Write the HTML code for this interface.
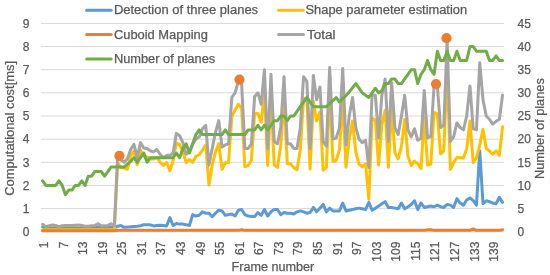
<!DOCTYPE html><html><head><meta charset="utf-8"><style>html,body{margin:0;padding:0;background:#fff;}svg{display:block;}text{font-family:"Liberation Sans", Arial, sans-serif;fill:#595959;stroke:#595959;stroke-width:0.25px;}</style></head><body>
<svg width="550" height="275" viewBox="0 0 550 275">
<line x1="41.0" y1="23.40" x2="504.2" y2="23.40" stroke="#d9d9d9" stroke-width="1"/>
<line x1="41.0" y1="46.55" x2="504.2" y2="46.55" stroke="#d9d9d9" stroke-width="1"/>
<line x1="41.0" y1="69.70" x2="504.2" y2="69.70" stroke="#d9d9d9" stroke-width="1"/>
<line x1="41.0" y1="92.85" x2="504.2" y2="92.85" stroke="#d9d9d9" stroke-width="1"/>
<line x1="41.0" y1="116.00" x2="504.2" y2="116.00" stroke="#d9d9d9" stroke-width="1"/>
<line x1="41.0" y1="139.15" x2="504.2" y2="139.15" stroke="#d9d9d9" stroke-width="1"/>
<line x1="41.0" y1="162.30" x2="504.2" y2="162.30" stroke="#d9d9d9" stroke-width="1"/>
<line x1="41.0" y1="185.45" x2="504.2" y2="185.45" stroke="#d9d9d9" stroke-width="1"/>
<line x1="41.0" y1="208.60" x2="504.2" y2="208.60" stroke="#d9d9d9" stroke-width="1"/>
<line x1="41.0" y1="231.75" x2="504.2" y2="231.75" stroke="#d9d9d9" stroke-width="1"/>
<text x="29.4" y="236.05" font-size="12" text-anchor="end">0</text>
<text x="29.4" y="212.90" font-size="12" text-anchor="end">1</text>
<text x="29.4" y="189.75" font-size="12" text-anchor="end">2</text>
<text x="29.4" y="166.60" font-size="12" text-anchor="end">3</text>
<text x="29.4" y="143.45" font-size="12" text-anchor="end">4</text>
<text x="29.4" y="120.30" font-size="12" text-anchor="end">5</text>
<text x="29.4" y="97.15" font-size="12" text-anchor="end">6</text>
<text x="29.4" y="74.00" font-size="12" text-anchor="end">7</text>
<text x="29.4" y="50.85" font-size="12" text-anchor="end">8</text>
<text x="29.4" y="27.70" font-size="12" text-anchor="end">9</text>
<text x="517.6" y="236.05" font-size="12">0</text>
<text x="517.6" y="212.90" font-size="12">5</text>
<text x="517.6" y="189.75" font-size="12">10</text>
<text x="517.6" y="166.60" font-size="12">15</text>
<text x="517.6" y="143.45" font-size="12">20</text>
<text x="517.6" y="120.30" font-size="12">25</text>
<text x="517.6" y="97.15" font-size="12">30</text>
<text x="517.6" y="74.00" font-size="12">35</text>
<text x="517.6" y="50.85" font-size="12">40</text>
<text x="517.6" y="27.70" font-size="12">45</text>
<text transform="translate(47.93,241.6) rotate(-90)" font-size="12" text-anchor="end">1</text>
<text transform="translate(67.50,241.6) rotate(-90)" font-size="12" text-anchor="end">7</text>
<text transform="translate(87.07,241.6) rotate(-90)" font-size="12" text-anchor="end">13</text>
<text transform="translate(106.65,241.6) rotate(-90)" font-size="12" text-anchor="end">19</text>
<text transform="translate(126.22,241.6) rotate(-90)" font-size="12" text-anchor="end">25</text>
<text transform="translate(145.79,241.6) rotate(-90)" font-size="12" text-anchor="end">31</text>
<text transform="translate(165.36,241.6) rotate(-90)" font-size="12" text-anchor="end">37</text>
<text transform="translate(184.93,241.6) rotate(-90)" font-size="12" text-anchor="end">43</text>
<text transform="translate(204.51,241.6) rotate(-90)" font-size="12" text-anchor="end">49</text>
<text transform="translate(224.08,241.6) rotate(-90)" font-size="12" text-anchor="end">55</text>
<text transform="translate(243.65,241.6) rotate(-90)" font-size="12" text-anchor="end">61</text>
<text transform="translate(263.22,241.6) rotate(-90)" font-size="12" text-anchor="end">67</text>
<text transform="translate(282.79,241.6) rotate(-90)" font-size="12" text-anchor="end">73</text>
<text transform="translate(302.36,241.6) rotate(-90)" font-size="12" text-anchor="end">79</text>
<text transform="translate(321.94,241.6) rotate(-90)" font-size="12" text-anchor="end">85</text>
<text transform="translate(341.51,241.6) rotate(-90)" font-size="12" text-anchor="end">91</text>
<text transform="translate(361.08,241.6) rotate(-90)" font-size="12" text-anchor="end">97</text>
<text transform="translate(380.65,241.6) rotate(-90)" font-size="12" text-anchor="end">103</text>
<text transform="translate(400.22,241.6) rotate(-90)" font-size="12" text-anchor="end">109</text>
<text transform="translate(419.80,241.6) rotate(-90)" font-size="12" text-anchor="end">115</text>
<text transform="translate(439.37,241.6) rotate(-90)" font-size="12" text-anchor="end">121</text>
<text transform="translate(458.94,241.6) rotate(-90)" font-size="12" text-anchor="end">127</text>
<text transform="translate(478.51,241.6) rotate(-90)" font-size="12" text-anchor="end">133</text>
<text transform="translate(498.08,241.6) rotate(-90)" font-size="12" text-anchor="end">139</text>
<text transform="translate(14.4,128.4) rotate(-90)" font-size="12" text-anchor="middle" textLength="134.8" lengthAdjust="spacingAndGlyphs">Computational cost[ms]</text>
<text transform="translate(544,128.6) rotate(-90)" font-size="12" text-anchor="middle" textLength="100.8" lengthAdjust="spacingAndGlyphs">Number of planes</text>
<text x="272.9" y="270.8" font-size="12" text-anchor="middle" textLength="82.8" lengthAdjust="spacingAndGlyphs">Frame number</text>
<line x1="86.6" y1="10.2" x2="111.2" y2="10.2" stroke="#5B9BD5" stroke-width="3" stroke-linecap="round"/>
<text x="113.9" y="14.1" font-size="12" textLength="144.2" lengthAdjust="spacingAndGlyphs">Detection of three planes</text>
<line x1="278.5" y1="10.2" x2="303.4" y2="10.2" stroke="#FFC000" stroke-width="3" stroke-linecap="round"/>
<text x="305.5" y="14.1" font-size="12" textLength="161.6" lengthAdjust="spacingAndGlyphs">Shape parameter estimation</text>
<line x1="86.6" y1="34.6" x2="111.2" y2="34.6" stroke="#ED7D31" stroke-width="3" stroke-linecap="round"/>
<text x="113.9" y="38.8" font-size="12" textLength="94.0" lengthAdjust="spacingAndGlyphs">Cuboid Mapping</text>
<line x1="278.5" y1="34.6" x2="303.4" y2="34.6" stroke="#A5A5A5" stroke-width="3" stroke-linecap="round"/>
<text x="306.9" y="38.8" font-size="12" textLength="28.6" lengthAdjust="spacingAndGlyphs">Total</text>
<line x1="86.6" y1="59.0" x2="111.2" y2="59.0" stroke="#70AD47" stroke-width="3" stroke-linecap="round"/>
<text x="113.9" y="63.4" font-size="12" textLength="101.3" lengthAdjust="spacingAndGlyphs">Number of planes</text>
<polyline points="42.63,227.12 45.89,227.81 49.15,228.28 52.42,227.81 55.68,227.58 58.94,228.97 62.20,228.05 65.46,227.81 68.73,227.81 71.99,228.05 75.25,228.05 78.51,228.28 81.77,227.81 85.04,228.28 88.30,228.28 91.56,228.28 94.82,228.05 98.08,227.12 101.35,228.28 104.61,228.05 107.87,228.05 111.13,227.12 114.39,227.81 117.66,226.19 120.92,225.50 124.18,227.35 127.44,227.12 130.70,226.66 133.97,226.43 137.23,226.19 140.49,225.73 143.75,224.81 147.01,224.81 150.28,224.81 153.54,225.96 156.80,225.50 160.06,225.27 163.32,225.50 166.59,225.96 169.85,217.63 173.11,225.50 176.37,223.42 179.63,224.11 182.90,224.11 186.16,224.81 189.42,225.50 192.68,214.62 195.94,216.01 199.21,215.31 202.47,211.84 205.73,213.23 208.99,213.23 212.25,216.70 215.52,213.23 218.78,210.22 222.04,210.91 225.30,215.31 228.56,214.62 231.83,213.92 235.09,216.01 238.35,210.22 241.61,209.53 244.87,214.62 248.14,216.01 251.40,216.47 254.66,216.47 257.92,212.54 261.18,215.31 264.45,209.53 267.71,216.01 270.97,211.84 274.23,209.53 277.49,209.53 280.75,214.62 284.02,212.54 287.28,213.23 290.54,213.23 293.80,213.92 297.06,211.84 300.33,210.91 303.59,211.84 306.85,213.23 310.11,212.54 313.37,207.44 316.64,211.84 319.90,208.14 323.16,204.43 326.42,211.84 329.68,208.14 332.95,210.91 336.21,210.91 339.47,210.91 342.73,203.04 345.99,210.91 349.26,210.22 352.52,209.53 355.78,208.83 359.04,208.14 362.30,208.83 365.57,209.53 368.83,202.35 372.09,210.22 375.35,208.14 378.61,206.05 381.88,203.74 385.14,201.66 388.40,207.44 391.66,207.44 394.92,208.14 398.19,208.83 401.45,203.04 404.71,208.83 407.97,206.75 411.23,204.43 414.50,200.73 417.76,209.53 421.02,203.04 424.28,207.44 427.54,206.75 430.81,206.05 434.07,206.75 437.33,205.13 440.59,206.75 443.85,207.44 447.12,204.43 450.38,205.13 453.64,207.44 456.90,198.65 460.16,203.04 463.43,205.13 466.69,200.03 469.95,197.95 473.21,200.73 476.47,205.13 479.74,150.73 483.00,203.74 486.26,200.73 489.52,201.66 492.78,203.04 496.05,203.74 499.31,197.26 502.57,202.35" fill="none" stroke="#5B9BD5" stroke-width="3" stroke-linejoin="round" stroke-linecap="round"/>
<polyline points="42.63,229.67 45.89,229.67 49.15,229.67 52.42,229.67 55.68,229.67 58.94,229.67 62.20,229.67 65.46,229.67 68.73,229.67 71.99,229.67 75.25,229.67 78.51,229.67 81.77,229.67 85.04,229.67 88.30,229.67 91.56,229.67 94.82,229.67 98.08,229.67 101.35,229.67 104.61,229.67 107.87,229.67 111.13,229.67 114.39,229.67 117.66,162.53 120.92,167.62 124.18,168.09 127.44,169.25 130.70,156.05 133.97,150.96 137.23,164.62 140.49,150.03 143.75,156.28 147.01,156.74 150.28,159.06 153.54,159.06 156.80,157.21 160.06,162.07 163.32,165.31 166.59,162.53 169.85,170.87 173.11,160.68 176.37,143.09 179.63,144.71 182.90,151.65 186.16,162.53 189.42,159.52 192.68,162.30 195.94,156.28 199.21,154.66 202.47,150.03 205.73,145.17 208.99,184.99 212.25,164.85 215.52,152.11 218.78,143.55 222.04,169.25 225.30,162.76 228.56,162.30 231.83,116.69 235.09,109.98 238.35,104.19 241.61,107.90 244.87,166.93 248.14,165.54 251.40,160.45 254.66,113.22 257.92,113.45 261.18,122.25 264.45,93.31 267.71,165.54 270.97,95.63 274.23,165.08 277.49,167.39 280.75,146.10 284.02,97.25 287.28,163.69 290.54,163.69 293.80,167.62 297.06,169.71 300.33,149.80 303.59,97.94 306.85,101.18 310.11,169.01 313.37,101.18 316.64,121.09 319.90,112.06 323.16,170.17 326.42,167.39 329.68,92.39 332.95,161.37 336.21,160.22 339.47,149.80 342.73,98.64 345.99,167.16 349.26,138.92 352.52,121.09 355.78,151.88 359.04,164.15 362.30,166.93 365.57,163.92 368.83,199.34 372.09,118.08 375.35,120.17 378.61,165.08 381.88,124.57 385.14,110.44 388.40,167.16 391.66,108.13 394.92,152.58 398.19,158.83 401.45,146.10 404.71,119.47 407.97,156.28 411.23,165.54 414.50,161.14 417.76,163.92 421.02,168.55 424.28,116.23 427.54,165.08 430.81,164.15 434.07,112.30 437.33,113.92 440.59,153.97 443.85,150.96 447.12,68.31 450.38,169.48 453.64,162.53 456.90,157.44 460.16,157.67 463.43,157.90 466.69,149.10 469.95,121.09 473.21,162.53 476.47,157.90 479.74,145.17 483.00,129.20 486.26,148.41 489.52,150.96 492.78,154.20 496.05,150.73 499.31,155.36 502.57,126.65" fill="none" stroke="#FFC000" stroke-width="3" stroke-linejoin="round" stroke-linecap="round"/>
<polyline points="42.63,230.82 45.89,230.82 49.15,230.82 52.42,230.82 55.68,230.82 58.94,230.82 62.20,230.82 65.46,230.82 68.73,230.82 71.99,230.82 75.25,230.82 78.51,230.82 81.77,230.82 85.04,230.82 88.30,230.82 91.56,230.82 94.82,230.82 98.08,230.82 101.35,230.82 104.61,230.82 107.87,230.82 111.13,230.82 114.39,230.82 117.66,230.36 120.92,230.36 124.18,230.36 127.44,230.36 130.70,230.36 133.97,230.36 137.23,230.36 140.49,230.36 143.75,230.36 147.01,230.36 150.28,230.36 153.54,230.36 156.80,230.36 160.06,230.36 163.32,230.36 166.59,230.36 169.85,230.36 173.11,230.36 176.37,230.36 179.63,230.36 182.90,230.36 186.16,230.36 189.42,230.36 192.68,230.36 195.94,230.36 199.21,230.36 202.47,230.36 205.73,230.36 208.99,230.36 212.25,230.36 215.52,230.36 218.78,230.36 222.04,230.36 225.30,230.36 228.56,230.36 231.83,230.36 235.09,230.36 238.35,230.36 241.61,229.67 244.87,230.36 248.14,230.36 251.40,230.36 254.66,230.36 257.92,230.36 261.18,230.36 264.45,230.36 267.71,230.36 270.97,230.36 274.23,230.36 277.49,230.36 280.75,230.36 284.02,230.36 287.28,230.36 290.54,230.36 293.80,230.36 297.06,230.36 300.33,230.36 303.59,230.36 306.85,230.36 310.11,230.36 313.37,230.36 316.64,230.36 319.90,230.36 323.16,230.36 326.42,230.36 329.68,230.36 332.95,230.36 336.21,230.36 339.47,230.36 342.73,230.36 345.99,230.36 349.26,230.36 352.52,230.36 355.78,230.36 359.04,230.36 362.30,230.36 365.57,230.36 368.83,230.36 372.09,230.36 375.35,230.36 378.61,230.36 381.88,230.36 385.14,230.36 388.40,230.36 391.66,230.36 394.92,230.36 398.19,230.36 401.45,230.36 404.71,230.36 407.97,230.36 411.23,230.36 414.50,230.36 417.76,230.36 421.02,230.36 424.28,230.36 427.54,229.67 430.81,229.67 434.07,230.36 437.33,230.36 440.59,230.36 443.85,230.36 447.12,230.36 450.38,230.36 453.64,230.36 456.90,230.36 460.16,230.36 463.43,230.36 466.69,230.36 469.95,230.36 473.21,228.97 476.47,230.36 479.74,230.36 483.00,230.36 486.26,230.36 489.52,230.36 492.78,230.36 496.05,230.36 499.31,230.36 502.57,229.67" fill="none" stroke="#ED7D31" stroke-width="3" stroke-linejoin="round" stroke-linecap="round"/>
<polyline points="42.63,224.34 45.89,226.66 49.15,225.73 52.42,225.04 55.68,225.50 58.94,226.89 62.20,225.73 65.46,225.50 68.73,225.50 71.99,225.50 75.25,225.27 78.51,225.04 81.77,225.50 85.04,226.19 88.30,226.19 91.56,225.73 94.82,225.50 98.08,223.65 101.35,225.73 104.61,225.73 107.87,225.50 111.13,223.65 114.39,225.73 117.66,155.59 120.92,159.99 124.18,162.30 127.44,158.83 130.70,149.57 133.97,144.24 137.23,157.67 140.49,142.62 143.75,147.95 147.01,148.41 150.28,150.73 153.54,151.88 156.80,149.57 160.06,154.20 163.32,157.67 166.59,155.36 169.85,155.36 173.11,153.04 176.37,133.36 179.63,135.68 182.90,142.62 186.16,154.20 189.42,151.88 192.68,143.78 195.94,139.15 199.21,136.84 202.47,128.73 205.73,125.26 208.99,165.08 212.25,148.41 215.52,132.21 218.78,120.63 222.04,147.02 225.30,144.94 228.56,143.78 231.83,97.48 235.09,92.85 238.35,81.28 241.61,83.59 244.87,148.41 248.14,148.41 251.40,143.78 254.66,96.55 257.92,92.85 261.18,104.43 264.45,69.70 267.71,148.41 270.97,74.33 274.23,141.47 277.49,143.78 280.75,127.58 284.02,76.65 287.28,143.78 290.54,143.78 293.80,148.41 297.06,148.41 300.33,127.58 303.59,76.65 306.85,81.28 310.11,148.41 313.37,75.49 316.64,99.80 319.90,87.06 323.16,141.47 326.42,146.09 329.68,67.39 332.95,139.15 336.21,137.99 339.47,127.58 342.73,68.54 345.99,144.94 349.26,116.00 352.52,97.48 355.78,127.58 359.04,139.15 362.30,142.62 365.57,140.31 368.83,167.39 372.09,95.16 375.35,95.16 378.61,137.99 381.88,95.16 385.14,78.96 388.40,141.47 391.66,82.43 394.92,127.58 398.19,134.52 401.45,116.00 404.71,95.16 407.97,129.89 411.23,136.84 414.50,128.73 417.76,140.31 421.02,138.46 424.28,90.54 427.54,137.99 430.81,136.37 434.07,85.91 437.33,85.91 440.59,127.58 443.85,125.26 447.12,39.60 450.38,141.47 453.64,136.84 456.90,122.95 460.16,127.58 463.43,129.89 466.69,116.00 469.95,85.91 473.21,128.73 476.47,129.89 479.74,62.76 483.00,99.80 486.26,116.00 489.52,119.47 492.78,124.10 496.05,121.32 499.31,119.47 502.57,95.16" fill="none" stroke="#A5A5A5" stroke-width="3" stroke-linejoin="round" stroke-linecap="round"/>
<polyline points="42.63,180.82 45.89,185.45 49.15,185.45 52.42,185.45 55.68,185.45 58.94,180.82 62.20,185.45 65.46,194.71 68.73,190.08 71.99,190.08 75.25,185.45 78.51,185.45 81.77,180.82 85.04,185.45 88.30,176.19 91.56,176.19 94.82,171.56 98.08,171.56 101.35,171.56 104.61,176.19 107.87,171.56 111.13,166.93 114.39,166.93 117.66,166.93 120.92,166.93 124.18,166.93 127.44,164.15 130.70,161.37 133.97,157.67 137.23,162.30 140.49,157.67 143.75,153.04 147.01,162.30 150.28,157.67 153.54,157.67 156.80,157.67 160.06,157.67 163.32,157.67 166.59,157.67 169.85,157.67 173.11,157.67 176.37,153.04 179.63,157.67 182.90,148.41 186.16,143.78 189.42,153.04 192.68,143.78 195.94,134.52 199.21,129.89 202.47,134.52 205.73,134.52 208.99,134.52 212.25,134.52 215.52,134.52 218.78,134.52 222.04,134.52 225.30,129.89 228.56,134.52 231.83,134.52 235.09,134.52 238.35,134.52 241.61,134.52 244.87,134.52 248.14,129.89 251.40,129.89 254.66,129.89 257.92,125.26 261.18,129.89 264.45,125.26 267.71,129.89 270.97,125.26 274.23,120.63 277.49,120.63 280.75,116.00 284.02,116.00 287.28,120.63 290.54,116.00 293.80,116.00 297.06,111.37 300.33,106.74 303.59,102.11 306.85,97.48 310.11,102.11 313.37,106.74 316.64,106.74 319.90,106.74 323.16,106.74 326.42,106.74 329.68,103.50 332.95,100.72 336.21,97.48 339.47,102.11 342.73,98.41 345.99,95.63 349.26,91.92 352.52,87.76 355.78,83.59 359.04,88.22 362.30,92.85 365.57,95.16 368.83,97.48 372.09,92.85 375.35,88.22 378.61,92.85 381.88,90.53 385.14,83.59 388.40,83.59 391.66,78.96 394.92,78.96 398.19,83.59 401.45,83.59 404.71,78.96 407.97,74.33 411.23,69.70 414.50,69.70 417.76,83.59 421.02,74.33 424.28,69.70 427.54,60.44 430.81,69.70 434.07,74.33 437.33,51.18 440.59,60.44 443.85,60.44 447.12,51.18 450.38,60.44 453.64,60.44 456.90,51.18 460.16,60.44 463.43,60.44 466.69,60.44 469.95,46.55 473.21,46.55 476.47,51.18 479.74,51.18 483.00,51.18 486.26,51.18 489.52,60.44 492.78,60.44 496.05,55.81 499.31,60.44 502.57,60.44" fill="none" stroke="#70AD47" stroke-width="3" stroke-linejoin="round" stroke-linecap="round"/>
<circle cx="119.45" cy="155.82" r="5.1" fill="#ED7D31"/>
<circle cx="239.49" cy="79.65" r="5.1" fill="#ED7D31"/>
<circle cx="436.02" cy="84.05" r="5.1" fill="#ED7D31"/>
<circle cx="446.46" cy="38.22" r="5.1" fill="#ED7D31"/>
</svg></body></html>
